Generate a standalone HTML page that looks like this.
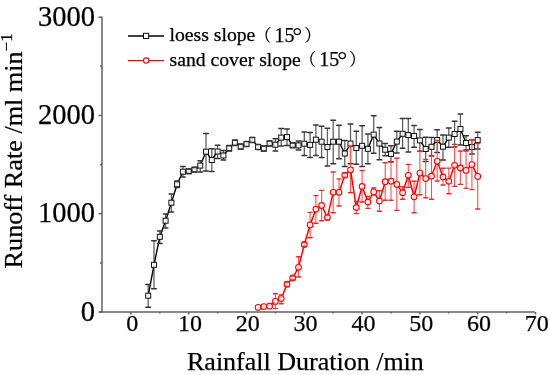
<!DOCTYPE html>
<html><head><meta charset="utf-8"><title>Runoff Rate chart</title>
<style>html,body{margin:0;padding:0;background:#fff;}svg{display:block;}</style>
</head><body>
<svg width="550" height="375" viewBox="0 0 550 375" font-family="'Liberation Serif', 'Noto Serif CJK SC', serif" fill="#000">
<style>text{stroke:#000;stroke-width:0.25px;}</style>
<rect width="550" height="375" fill="#fff"/>
<g stroke="#606060" stroke-width="1.5"><line x1="102.0" y1="16.7" x2="102.0" y2="312.5"/><line x1="99.4" y1="312.0" x2="534.8" y2="312.0"/><line x1="98.5" y1="312.0" x2="102.0" y2="312.0"/><line x1="100.0" y1="262.9" x2="102.0" y2="262.9"/><line x1="98.5" y1="213.7" x2="102.0" y2="213.7"/><line x1="100.0" y1="164.6" x2="102.0" y2="164.6"/><line x1="98.5" y1="115.5" x2="102.0" y2="115.5"/><line x1="100.0" y1="66.3" x2="102.0" y2="66.3"/><line x1="98.5" y1="17.2" x2="102.0" y2="17.2"/><line x1="130.9" y1="312.0" x2="130.9" y2="314.5"/><line x1="159.8" y1="312.0" x2="159.8" y2="313.5"/><line x1="188.7" y1="312.0" x2="188.7" y2="314.5"/><line x1="217.6" y1="312.0" x2="217.6" y2="313.5"/><line x1="246.5" y1="312.0" x2="246.5" y2="314.5"/><line x1="275.4" y1="312.0" x2="275.4" y2="313.5"/><line x1="304.3" y1="312.0" x2="304.3" y2="314.5"/><line x1="333.2" y1="312.0" x2="333.2" y2="313.5"/><line x1="362.1" y1="312.0" x2="362.1" y2="314.5"/><line x1="391.0" y1="312.0" x2="391.0" y2="313.5"/><line x1="419.9" y1="312.0" x2="419.9" y2="314.5"/><line x1="448.8" y1="312.0" x2="448.8" y2="313.5"/><line x1="477.7" y1="312.0" x2="477.7" y2="314.5"/><line x1="506.6" y1="312.0" x2="506.6" y2="313.5"/><line x1="535.5" y1="312.0" x2="535.5" y2="314.5"/></g>
<g stroke="#606060" stroke-width="1.3"><line x1="148.2" y1="284.5" x2="148.2" y2="307.2"/><line x1="154.0" y1="240.8" x2="154.0" y2="288.7"/><line x1="159.8" y1="230.9" x2="159.8" y2="243.5"/><line x1="165.6" y1="214.0" x2="165.6" y2="228.0"/><line x1="171.4" y1="194.0" x2="171.4" y2="212.0"/><line x1="177.1" y1="181.0" x2="177.1" y2="187.5"/><line x1="182.9" y1="166.4" x2="182.9" y2="177.0"/><line x1="188.7" y1="169.0" x2="188.7" y2="173.5"/><line x1="194.5" y1="167.5" x2="194.5" y2="172.0"/><line x1="200.3" y1="160.8" x2="200.3" y2="172.0"/><line x1="206.0" y1="133.6" x2="206.0" y2="170.9"/><line x1="211.8" y1="148.8" x2="211.8" y2="171.5"/><line x1="217.6" y1="145.3" x2="217.6" y2="158.4"/><line x1="223.4" y1="150.4" x2="223.4" y2="160.0"/><line x1="229.2" y1="145.5" x2="229.2" y2="151.0"/><line x1="234.9" y1="140.0" x2="234.9" y2="145.5"/><line x1="240.7" y1="144.0" x2="240.7" y2="149.0"/><line x1="246.5" y1="141.5" x2="246.5" y2="146.5"/><line x1="252.3" y1="137.5" x2="252.3" y2="142.5"/><line x1="258.1" y1="144.5" x2="258.1" y2="149.5"/><line x1="263.8" y1="146.0" x2="263.8" y2="151.0"/><line x1="269.6" y1="141.0" x2="269.6" y2="146.0"/><line x1="275.4" y1="138.7" x2="275.4" y2="150.9"/><line x1="281.2" y1="128.5" x2="281.2" y2="146.1"/><line x1="287.0" y1="129.1" x2="287.0" y2="145.6"/><line x1="292.7" y1="143.0" x2="292.7" y2="147.5"/><line x1="298.5" y1="141.1" x2="298.5" y2="149.9"/><line x1="304.3" y1="131.9" x2="304.3" y2="155.4"/><line x1="310.1" y1="132.6" x2="310.1" y2="157.5"/><line x1="315.9" y1="124.9" x2="315.9" y2="155.5"/><line x1="321.6" y1="126.2" x2="321.6" y2="157.6"/><line x1="327.4" y1="128.3" x2="327.4" y2="165.9"/><line x1="333.2" y1="120.3" x2="333.2" y2="163.8"/><line x1="339.0" y1="125.3" x2="339.0" y2="158.7"/><line x1="344.8" y1="140.6" x2="344.8" y2="166.5"/><line x1="350.5" y1="124.1" x2="350.5" y2="163.8"/><line x1="356.3" y1="131.2" x2="356.3" y2="164.3"/><line x1="362.1" y1="125.7" x2="362.1" y2="166.5"/><line x1="367.9" y1="133.9" x2="367.9" y2="163.8"/><line x1="373.7" y1="115.7" x2="373.7" y2="153.3"/><line x1="379.4" y1="127.5" x2="379.4" y2="159.7"/><line x1="385.2" y1="143.4" x2="385.2" y2="155.8"/><line x1="391.0" y1="145.8" x2="391.0" y2="161.8"/><line x1="396.8" y1="131.2" x2="396.8" y2="153.1"/><line x1="402.6" y1="118.5" x2="402.6" y2="148.2"/><line x1="408.3" y1="118.4" x2="408.3" y2="152.1"/><line x1="414.1" y1="125.5" x2="414.1" y2="147.3"/><line x1="419.9" y1="129.4" x2="419.9" y2="151.3"/><line x1="425.7" y1="137.2" x2="425.7" y2="161.5"/><line x1="431.5" y1="137.5" x2="431.5" y2="156.1"/><line x1="437.2" y1="129.7" x2="437.2" y2="152.4"/><line x1="443.0" y1="135.1" x2="443.0" y2="159.9"/><line x1="448.8" y1="128.1" x2="448.8" y2="147.3"/><line x1="454.6" y1="121.2" x2="454.6" y2="147.0"/><line x1="460.4" y1="114.1" x2="460.4" y2="145.0"/><line x1="466.1" y1="135.7" x2="466.1" y2="150.0"/><line x1="471.9" y1="139.7" x2="471.9" y2="154.0"/><line x1="477.7" y1="132.2" x2="477.7" y2="149.0"/></g>
<polyline points="148.2,295.7 154.0,264.8 159.8,236.8 165.6,220.7 171.4,202.7 177.1,184.3 182.9,171.7 188.7,171.3 194.5,169.6 200.3,165.6 206.0,151.7 211.8,160.0 217.6,151.5 223.4,155.5 229.2,148.3 234.9,142.8 240.7,146.6 246.5,144.0 252.3,139.9 258.1,147.0 263.8,148.6 269.6,143.5 275.4,144.7 281.2,137.6 287.0,137.1 292.7,145.3 298.5,145.4 304.3,143.7 310.1,144.9 315.9,139.7 321.6,141.7 327.4,147.0 333.2,141.7 339.0,141.7 344.8,153.5 350.5,143.6 356.3,148.0 362.1,145.8 367.9,148.8 373.7,134.6 379.4,143.5 385.2,149.7 391.0,153.9 396.8,141.6 402.6,133.8 408.3,135.1 414.1,136.0 419.9,140.4 425.7,149.0 431.5,146.8 437.2,140.0 443.0,146.7 448.8,137.6 454.6,134.0 460.4,129.0 466.1,143.0 471.9,147.0 477.7,140.1" fill="none" stroke="#000" stroke-width="1.4" stroke-linejoin="round"/>
<g fill="#fff" fill-opacity="0.92" stroke="#111" stroke-width="1.0"><rect x="145.7" y="293.2" width="5.0" height="5.0"/><rect x="151.5" y="262.3" width="5.0" height="5.0"/><rect x="157.3" y="234.3" width="5.0" height="5.0"/><rect x="163.1" y="218.2" width="5.0" height="5.0"/><rect x="168.9" y="200.2" width="5.0" height="5.0"/><rect x="174.6" y="181.8" width="5.0" height="5.0"/><rect x="180.4" y="169.2" width="5.0" height="5.0"/><rect x="186.2" y="168.8" width="5.0" height="5.0"/><rect x="192.0" y="167.1" width="5.0" height="5.0"/><rect x="197.8" y="163.1" width="5.0" height="5.0"/><rect x="203.5" y="149.2" width="5.0" height="5.0"/><rect x="209.3" y="157.5" width="5.0" height="5.0"/><rect x="215.1" y="149.0" width="5.0" height="5.0"/><rect x="220.9" y="153.0" width="5.0" height="5.0"/><rect x="226.7" y="145.8" width="5.0" height="5.0"/><rect x="232.4" y="140.3" width="5.0" height="5.0"/><rect x="238.2" y="144.1" width="5.0" height="5.0"/><rect x="244.0" y="141.5" width="5.0" height="5.0"/><rect x="249.8" y="137.4" width="5.0" height="5.0"/><rect x="255.6" y="144.5" width="5.0" height="5.0"/><rect x="261.3" y="146.1" width="5.0" height="5.0"/><rect x="267.1" y="141.0" width="5.0" height="5.0"/><rect x="272.9" y="142.2" width="5.0" height="5.0"/><rect x="278.7" y="135.1" width="5.0" height="5.0"/><rect x="284.5" y="134.6" width="5.0" height="5.0"/><rect x="290.2" y="142.8" width="5.0" height="5.0"/><rect x="296.0" y="142.9" width="5.0" height="5.0"/><rect x="301.8" y="141.2" width="5.0" height="5.0"/><rect x="307.6" y="142.4" width="5.0" height="5.0"/><rect x="313.4" y="137.2" width="5.0" height="5.0"/><rect x="319.1" y="139.2" width="5.0" height="5.0"/><rect x="324.9" y="144.5" width="5.0" height="5.0"/><rect x="330.7" y="139.2" width="5.0" height="5.0"/><rect x="336.5" y="139.2" width="5.0" height="5.0"/><rect x="342.3" y="151.0" width="5.0" height="5.0"/><rect x="348.0" y="141.1" width="5.0" height="5.0"/><rect x="353.8" y="145.5" width="5.0" height="5.0"/><rect x="359.6" y="143.3" width="5.0" height="5.0"/><rect x="365.4" y="146.3" width="5.0" height="5.0"/><rect x="371.2" y="132.1" width="5.0" height="5.0"/><rect x="376.9" y="141.0" width="5.0" height="5.0"/><rect x="382.7" y="147.2" width="5.0" height="5.0"/><rect x="388.5" y="151.4" width="5.0" height="5.0"/><rect x="394.3" y="139.1" width="5.0" height="5.0"/><rect x="400.1" y="131.3" width="5.0" height="5.0"/><rect x="405.8" y="132.6" width="5.0" height="5.0"/><rect x="411.6" y="133.5" width="5.0" height="5.0"/><rect x="417.4" y="137.9" width="5.0" height="5.0"/><rect x="423.2" y="146.5" width="5.0" height="5.0"/><rect x="429.0" y="144.3" width="5.0" height="5.0"/><rect x="434.7" y="137.5" width="5.0" height="5.0"/><rect x="440.5" y="144.2" width="5.0" height="5.0"/><rect x="446.3" y="135.1" width="5.0" height="5.0"/><rect x="452.1" y="131.5" width="5.0" height="5.0"/><rect x="457.9" y="126.5" width="5.0" height="5.0"/><rect x="463.6" y="140.5" width="5.0" height="5.0"/><rect x="469.4" y="144.5" width="5.0" height="5.0"/><rect x="475.2" y="137.6" width="5.0" height="5.0"/></g>
<g stroke="#333" stroke-width="1.5" stroke-linecap="round"><line x1="145.9" y1="284.5" x2="150.5" y2="284.5"/><line x1="145.9" y1="307.2" x2="150.5" y2="307.2"/><line x1="151.7" y1="240.8" x2="156.3" y2="240.8"/><line x1="151.7" y1="288.7" x2="156.3" y2="288.7"/><line x1="157.5" y1="230.9" x2="162.1" y2="230.9"/><line x1="157.5" y1="243.5" x2="162.1" y2="243.5"/><line x1="163.3" y1="214.0" x2="167.9" y2="214.0"/><line x1="163.3" y1="228.0" x2="167.9" y2="228.0"/><line x1="169.1" y1="194.0" x2="173.7" y2="194.0"/><line x1="169.1" y1="212.0" x2="173.7" y2="212.0"/><line x1="174.8" y1="181.0" x2="179.4" y2="181.0"/><line x1="174.8" y1="187.5" x2="179.4" y2="187.5"/><line x1="180.6" y1="166.4" x2="185.2" y2="166.4"/><line x1="180.6" y1="177.0" x2="185.2" y2="177.0"/><line x1="186.4" y1="169.0" x2="191.0" y2="169.0"/><line x1="186.4" y1="173.5" x2="191.0" y2="173.5"/><line x1="192.2" y1="167.5" x2="196.8" y2="167.5"/><line x1="192.2" y1="172.0" x2="196.8" y2="172.0"/><line x1="198.0" y1="160.8" x2="202.6" y2="160.8"/><line x1="198.0" y1="172.0" x2="202.6" y2="172.0"/><line x1="203.7" y1="133.6" x2="208.3" y2="133.6"/><line x1="203.7" y1="170.9" x2="208.3" y2="170.9"/><line x1="209.5" y1="148.8" x2="214.1" y2="148.8"/><line x1="209.5" y1="171.5" x2="214.1" y2="171.5"/><line x1="215.3" y1="145.3" x2="219.9" y2="145.3"/><line x1="215.3" y1="158.4" x2="219.9" y2="158.4"/><line x1="221.1" y1="150.4" x2="225.7" y2="150.4"/><line x1="221.1" y1="160.0" x2="225.7" y2="160.0"/><line x1="226.9" y1="145.5" x2="231.5" y2="145.5"/><line x1="226.9" y1="151.0" x2="231.5" y2="151.0"/><line x1="232.6" y1="140.0" x2="237.2" y2="140.0"/><line x1="232.6" y1="145.5" x2="237.2" y2="145.5"/><line x1="238.4" y1="144.0" x2="243.0" y2="144.0"/><line x1="238.4" y1="149.0" x2="243.0" y2="149.0"/><line x1="244.2" y1="141.5" x2="248.8" y2="141.5"/><line x1="244.2" y1="146.5" x2="248.8" y2="146.5"/><line x1="250.0" y1="137.5" x2="254.6" y2="137.5"/><line x1="250.0" y1="142.5" x2="254.6" y2="142.5"/><line x1="255.8" y1="144.5" x2="260.4" y2="144.5"/><line x1="255.8" y1="149.5" x2="260.4" y2="149.5"/><line x1="261.5" y1="146.0" x2="266.1" y2="146.0"/><line x1="261.5" y1="151.0" x2="266.1" y2="151.0"/><line x1="267.3" y1="141.0" x2="271.9" y2="141.0"/><line x1="267.3" y1="146.0" x2="271.9" y2="146.0"/><line x1="273.1" y1="138.7" x2="277.7" y2="138.7"/><line x1="273.1" y1="150.9" x2="277.7" y2="150.9"/><line x1="278.9" y1="128.5" x2="283.5" y2="128.5"/><line x1="278.9" y1="146.1" x2="283.5" y2="146.1"/><line x1="284.7" y1="129.1" x2="289.3" y2="129.1"/><line x1="284.7" y1="145.6" x2="289.3" y2="145.6"/><line x1="290.4" y1="143.0" x2="295.0" y2="143.0"/><line x1="290.4" y1="147.5" x2="295.0" y2="147.5"/><line x1="296.2" y1="141.1" x2="300.8" y2="141.1"/><line x1="296.2" y1="149.9" x2="300.8" y2="149.9"/><line x1="302.0" y1="131.9" x2="306.6" y2="131.9"/><line x1="302.0" y1="155.4" x2="306.6" y2="155.4"/><line x1="307.8" y1="132.6" x2="312.4" y2="132.6"/><line x1="307.8" y1="157.5" x2="312.4" y2="157.5"/><line x1="313.6" y1="124.9" x2="318.2" y2="124.9"/><line x1="313.6" y1="155.5" x2="318.2" y2="155.5"/><line x1="319.3" y1="126.2" x2="323.9" y2="126.2"/><line x1="319.3" y1="157.6" x2="323.9" y2="157.6"/><line x1="325.1" y1="128.3" x2="329.7" y2="128.3"/><line x1="325.1" y1="165.9" x2="329.7" y2="165.9"/><line x1="330.9" y1="120.3" x2="335.5" y2="120.3"/><line x1="330.9" y1="163.8" x2="335.5" y2="163.8"/><line x1="336.7" y1="125.3" x2="341.3" y2="125.3"/><line x1="336.7" y1="158.7" x2="341.3" y2="158.7"/><line x1="342.5" y1="140.6" x2="347.1" y2="140.6"/><line x1="342.5" y1="166.5" x2="347.1" y2="166.5"/><line x1="348.2" y1="124.1" x2="352.8" y2="124.1"/><line x1="348.2" y1="163.8" x2="352.8" y2="163.8"/><line x1="354.0" y1="131.2" x2="358.6" y2="131.2"/><line x1="354.0" y1="164.3" x2="358.6" y2="164.3"/><line x1="359.8" y1="125.7" x2="364.4" y2="125.7"/><line x1="359.8" y1="166.5" x2="364.4" y2="166.5"/><line x1="365.6" y1="133.9" x2="370.2" y2="133.9"/><line x1="365.6" y1="163.8" x2="370.2" y2="163.8"/><line x1="371.4" y1="115.7" x2="376.0" y2="115.7"/><line x1="371.4" y1="153.3" x2="376.0" y2="153.3"/><line x1="377.1" y1="127.5" x2="381.7" y2="127.5"/><line x1="377.1" y1="159.7" x2="381.7" y2="159.7"/><line x1="382.9" y1="143.4" x2="387.5" y2="143.4"/><line x1="382.9" y1="155.8" x2="387.5" y2="155.8"/><line x1="388.7" y1="145.8" x2="393.3" y2="145.8"/><line x1="388.7" y1="161.8" x2="393.3" y2="161.8"/><line x1="394.5" y1="131.2" x2="399.1" y2="131.2"/><line x1="394.5" y1="153.1" x2="399.1" y2="153.1"/><line x1="400.3" y1="118.5" x2="404.9" y2="118.5"/><line x1="400.3" y1="148.2" x2="404.9" y2="148.2"/><line x1="406.0" y1="118.4" x2="410.6" y2="118.4"/><line x1="406.0" y1="152.1" x2="410.6" y2="152.1"/><line x1="411.8" y1="125.5" x2="416.4" y2="125.5"/><line x1="411.8" y1="147.3" x2="416.4" y2="147.3"/><line x1="417.6" y1="129.4" x2="422.2" y2="129.4"/><line x1="417.6" y1="151.3" x2="422.2" y2="151.3"/><line x1="423.4" y1="137.2" x2="428.0" y2="137.2"/><line x1="423.4" y1="161.5" x2="428.0" y2="161.5"/><line x1="429.2" y1="137.5" x2="433.8" y2="137.5"/><line x1="429.2" y1="156.1" x2="433.8" y2="156.1"/><line x1="434.9" y1="129.7" x2="439.5" y2="129.7"/><line x1="434.9" y1="152.4" x2="439.5" y2="152.4"/><line x1="440.7" y1="135.1" x2="445.3" y2="135.1"/><line x1="440.7" y1="159.9" x2="445.3" y2="159.9"/><line x1="446.5" y1="128.1" x2="451.1" y2="128.1"/><line x1="446.5" y1="147.3" x2="451.1" y2="147.3"/><line x1="452.3" y1="121.2" x2="456.9" y2="121.2"/><line x1="452.3" y1="147.0" x2="456.9" y2="147.0"/><line x1="458.1" y1="114.1" x2="462.7" y2="114.1"/><line x1="458.1" y1="145.0" x2="462.7" y2="145.0"/><line x1="463.8" y1="135.7" x2="468.4" y2="135.7"/><line x1="463.8" y1="150.0" x2="468.4" y2="150.0"/><line x1="469.6" y1="139.7" x2="474.2" y2="139.7"/><line x1="469.6" y1="154.0" x2="474.2" y2="154.0"/><line x1="475.4" y1="132.2" x2="480.0" y2="132.2"/><line x1="475.4" y1="149.0" x2="480.0" y2="149.0"/></g>
<g stroke="#ff4d4d" stroke-width="1.1"><line x1="275.4" y1="293.8" x2="275.4" y2="308.6"/><line x1="281.2" y1="295.0" x2="281.2" y2="303.8"/><line x1="287.0" y1="282.0" x2="287.0" y2="286.5"/><line x1="292.7" y1="276.0" x2="292.7" y2="280.0"/><line x1="298.5" y1="256.8" x2="298.5" y2="277.0"/><line x1="304.3" y1="242.5" x2="304.3" y2="246.5"/><line x1="310.1" y1="212.4" x2="310.1" y2="237.7"/><line x1="315.9" y1="195.6" x2="315.9" y2="223.3"/><line x1="321.6" y1="190.4" x2="321.6" y2="220.7"/><line x1="327.4" y1="215.0" x2="327.4" y2="220.0"/><line x1="333.2" y1="172.0" x2="333.2" y2="212.8"/><line x1="339.0" y1="178.9" x2="339.0" y2="206.0"/><line x1="344.8" y1="173.0" x2="344.8" y2="177.5"/><line x1="350.5" y1="146.5" x2="350.5" y2="192.8"/><line x1="356.3" y1="201.5" x2="356.3" y2="213.6"/><line x1="362.1" y1="170.5" x2="362.1" y2="202.0"/><line x1="367.9" y1="196.4" x2="367.9" y2="208.4"/><line x1="373.7" y1="188.0" x2="373.7" y2="195.0"/><line x1="379.4" y1="190.8" x2="379.4" y2="211.2"/><line x1="385.2" y1="162.8" x2="385.2" y2="200.2"/><line x1="391.0" y1="162.0" x2="391.0" y2="200.2"/><line x1="396.8" y1="158.3" x2="396.8" y2="210.4"/><line x1="402.6" y1="186.8" x2="402.6" y2="199.2"/><line x1="408.3" y1="164.4" x2="408.3" y2="187.4"/><line x1="414.1" y1="181.2" x2="414.1" y2="212.8"/><line x1="419.9" y1="151.4" x2="419.9" y2="194.8"/><line x1="425.7" y1="159.4" x2="425.7" y2="197.8"/><line x1="431.5" y1="155.4" x2="431.5" y2="199.3"/><line x1="437.2" y1="140.5" x2="437.2" y2="181.0"/><line x1="443.0" y1="168.2" x2="443.0" y2="185.0"/><line x1="448.8" y1="168.1" x2="448.8" y2="193.7"/><line x1="454.6" y1="144.4" x2="454.6" y2="186.4"/><line x1="460.4" y1="151.0" x2="460.4" y2="184.4"/><line x1="466.1" y1="151.0" x2="466.1" y2="188.4"/><line x1="471.9" y1="139.8" x2="471.9" y2="189.6"/><line x1="477.7" y1="143.5" x2="477.7" y2="209.0"/></g>
<polyline points="258.1,307.4 263.8,306.6 269.6,306.2 275.4,301.4 281.2,298.6 287.0,284.2 292.7,278.0 298.5,267.3 304.3,244.5 310.1,224.9 315.9,209.2 321.6,205.5 327.4,217.4 333.2,192.3 339.0,192.3 344.8,175.2 350.5,169.9 356.3,207.5 362.1,186.5 367.9,202.0 373.7,191.9 379.4,201.0 385.2,181.7 391.0,181.2 396.8,184.4 402.6,192.7 408.3,175.3 414.1,196.8 419.9,173.1 425.7,178.6 431.5,176.2 437.2,161.3 443.0,177.0 448.8,181.3 454.6,165.3 460.4,168.0 466.1,170.4 471.9,164.6 477.7,176.4" fill="none" stroke="#f00" stroke-width="1.5" stroke-linejoin="round"/>
<g fill="#fff" fill-opacity="0.85" stroke="#f00" stroke-width="1.1"><circle cx="258.1" cy="307.4" r="2.85"/><circle cx="263.8" cy="306.6" r="2.85"/><circle cx="269.6" cy="306.2" r="2.85"/><circle cx="275.4" cy="301.4" r="2.85"/><circle cx="281.2" cy="298.6" r="2.85"/><circle cx="287.0" cy="284.2" r="2.85"/><circle cx="292.7" cy="278.0" r="2.85"/><circle cx="298.5" cy="267.3" r="2.85"/><circle cx="304.3" cy="244.5" r="2.85"/><circle cx="310.1" cy="224.9" r="2.85"/><circle cx="315.9" cy="209.2" r="2.85"/><circle cx="321.6" cy="205.5" r="2.85"/><circle cx="327.4" cy="217.4" r="2.85"/><circle cx="333.2" cy="192.3" r="2.85"/><circle cx="339.0" cy="192.3" r="2.85"/><circle cx="344.8" cy="175.2" r="2.85"/><circle cx="350.5" cy="169.9" r="2.85"/><circle cx="356.3" cy="207.5" r="2.85"/><circle cx="362.1" cy="186.5" r="2.85"/><circle cx="367.9" cy="202.0" r="2.85"/><circle cx="373.7" cy="191.9" r="2.85"/><circle cx="379.4" cy="201.0" r="2.85"/><circle cx="385.2" cy="181.7" r="2.85"/><circle cx="391.0" cy="181.2" r="2.85"/><circle cx="396.8" cy="184.4" r="2.85"/><circle cx="402.6" cy="192.7" r="2.85"/><circle cx="408.3" cy="175.3" r="2.85"/><circle cx="414.1" cy="196.8" r="2.85"/><circle cx="419.9" cy="173.1" r="2.85"/><circle cx="425.7" cy="178.6" r="2.85"/><circle cx="431.5" cy="176.2" r="2.85"/><circle cx="437.2" cy="161.3" r="2.85"/><circle cx="443.0" cy="177.0" r="2.85"/><circle cx="448.8" cy="181.3" r="2.85"/><circle cx="454.6" cy="165.3" r="2.85"/><circle cx="460.4" cy="168.0" r="2.85"/><circle cx="466.1" cy="170.4" r="2.85"/><circle cx="471.9" cy="164.6" r="2.85"/><circle cx="477.7" cy="176.4" r="2.85"/></g>
<g stroke="#ff2020" stroke-width="1.4" stroke-linecap="round"><line x1="273.4" y1="293.8" x2="277.4" y2="293.8"/><line x1="273.4" y1="308.6" x2="277.4" y2="308.6"/><line x1="279.2" y1="295.0" x2="283.2" y2="295.0"/><line x1="279.2" y1="303.8" x2="283.2" y2="303.8"/><line x1="285.0" y1="282.0" x2="289.0" y2="282.0"/><line x1="285.0" y1="286.5" x2="289.0" y2="286.5"/><line x1="290.7" y1="276.0" x2="294.7" y2="276.0"/><line x1="290.7" y1="280.0" x2="294.7" y2="280.0"/><line x1="296.5" y1="256.8" x2="300.5" y2="256.8"/><line x1="296.5" y1="277.0" x2="300.5" y2="277.0"/><line x1="302.3" y1="242.5" x2="306.3" y2="242.5"/><line x1="302.3" y1="246.5" x2="306.3" y2="246.5"/><line x1="308.1" y1="212.4" x2="312.1" y2="212.4"/><line x1="308.1" y1="237.7" x2="312.1" y2="237.7"/><line x1="313.9" y1="195.6" x2="317.9" y2="195.6"/><line x1="313.9" y1="223.3" x2="317.9" y2="223.3"/><line x1="319.6" y1="190.4" x2="323.6" y2="190.4"/><line x1="319.6" y1="220.7" x2="323.6" y2="220.7"/><line x1="325.4" y1="215.0" x2="329.4" y2="215.0"/><line x1="325.4" y1="220.0" x2="329.4" y2="220.0"/><line x1="331.2" y1="172.0" x2="335.2" y2="172.0"/><line x1="331.2" y1="212.8" x2="335.2" y2="212.8"/><line x1="337.0" y1="178.9" x2="341.0" y2="178.9"/><line x1="337.0" y1="206.0" x2="341.0" y2="206.0"/><line x1="342.8" y1="173.0" x2="346.8" y2="173.0"/><line x1="342.8" y1="177.5" x2="346.8" y2="177.5"/><line x1="348.5" y1="146.5" x2="352.5" y2="146.5"/><line x1="348.5" y1="192.8" x2="352.5" y2="192.8"/><line x1="354.3" y1="201.5" x2="358.3" y2="201.5"/><line x1="354.3" y1="213.6" x2="358.3" y2="213.6"/><line x1="360.1" y1="170.5" x2="364.1" y2="170.5"/><line x1="360.1" y1="202.0" x2="364.1" y2="202.0"/><line x1="365.9" y1="196.4" x2="369.9" y2="196.4"/><line x1="365.9" y1="208.4" x2="369.9" y2="208.4"/><line x1="371.7" y1="188.0" x2="375.7" y2="188.0"/><line x1="371.7" y1="195.0" x2="375.7" y2="195.0"/><line x1="377.4" y1="190.8" x2="381.4" y2="190.8"/><line x1="377.4" y1="211.2" x2="381.4" y2="211.2"/><line x1="383.2" y1="162.8" x2="387.2" y2="162.8"/><line x1="383.2" y1="200.2" x2="387.2" y2="200.2"/><line x1="389.0" y1="162.0" x2="393.0" y2="162.0"/><line x1="389.0" y1="200.2" x2="393.0" y2="200.2"/><line x1="394.8" y1="158.3" x2="398.8" y2="158.3"/><line x1="394.8" y1="210.4" x2="398.8" y2="210.4"/><line x1="400.6" y1="186.8" x2="404.6" y2="186.8"/><line x1="400.6" y1="199.2" x2="404.6" y2="199.2"/><line x1="406.3" y1="164.4" x2="410.3" y2="164.4"/><line x1="406.3" y1="187.4" x2="410.3" y2="187.4"/><line x1="412.1" y1="181.2" x2="416.1" y2="181.2"/><line x1="412.1" y1="212.8" x2="416.1" y2="212.8"/><line x1="417.9" y1="151.4" x2="421.9" y2="151.4"/><line x1="417.9" y1="194.8" x2="421.9" y2="194.8"/><line x1="423.7" y1="159.4" x2="427.7" y2="159.4"/><line x1="423.7" y1="197.8" x2="427.7" y2="197.8"/><line x1="429.5" y1="155.4" x2="433.5" y2="155.4"/><line x1="429.5" y1="199.3" x2="433.5" y2="199.3"/><line x1="435.2" y1="140.5" x2="439.2" y2="140.5"/><line x1="435.2" y1="181.0" x2="439.2" y2="181.0"/><line x1="441.0" y1="168.2" x2="445.0" y2="168.2"/><line x1="441.0" y1="185.0" x2="445.0" y2="185.0"/><line x1="446.8" y1="168.1" x2="450.8" y2="168.1"/><line x1="446.8" y1="193.7" x2="450.8" y2="193.7"/><line x1="452.6" y1="144.4" x2="456.6" y2="144.4"/><line x1="452.6" y1="186.4" x2="456.6" y2="186.4"/><line x1="458.4" y1="151.0" x2="462.4" y2="151.0"/><line x1="458.4" y1="184.4" x2="462.4" y2="184.4"/><line x1="464.1" y1="151.0" x2="468.1" y2="151.0"/><line x1="464.1" y1="188.4" x2="468.1" y2="188.4"/><line x1="469.9" y1="139.8" x2="473.9" y2="139.8"/><line x1="469.9" y1="189.6" x2="473.9" y2="189.6"/><line x1="475.7" y1="143.5" x2="479.7" y2="143.5"/><line x1="475.7" y1="209.0" x2="479.7" y2="209.0"/></g>
<text x="95" y="320.6" text-anchor="end" font-size="28.5">0</text><text x="95" y="222.3" text-anchor="end" font-size="28.5">1000</text><text x="95" y="124.1" text-anchor="end" font-size="28.5">2000</text><text x="95" y="25.8" text-anchor="end" font-size="28.5">3000</text><text x="132.2" y="331" text-anchor="middle" font-size="24">0</text><text x="190.0" y="331" text-anchor="middle" font-size="24">10</text><text x="247.8" y="331" text-anchor="middle" font-size="24">20</text><text x="305.6" y="331" text-anchor="middle" font-size="24">30</text><text x="363.4" y="331" text-anchor="middle" font-size="24">40</text><text x="421.2" y="331" text-anchor="middle" font-size="24">50</text><text x="479.0" y="331" text-anchor="middle" font-size="24">60</text><text x="536.8" y="331" text-anchor="middle" font-size="24">70</text>
<text x="187" y="369.8" font-size="26">Rainfall Duration /min</text>
<text transform="translate(22.2,268.4) rotate(-90)" font-size="26.2">Runoff Rate /ml min<tspan dy="-10.5" font-size="17">&#8722;1</tspan></text>
<line x1="128" y1="36" x2="164" y2="36" stroke="#000" stroke-width="1.3"/>
<rect x="143.5" y="33.3" width="5.2" height="5.2" fill="#fff" stroke="#111" stroke-width="1.0"/>
<line x1="128" y1="60.6" x2="164" y2="60.6" stroke="#f00" stroke-width="1.3"/>
<circle cx="146.2" cy="60.6" r="2.7" fill="#fff" stroke="#f00" stroke-width="1.1"/>
<text x="169.5" y="41" font-size="19.7">loess slope</text><text x="254.4" y="41.7" font-size="17" style="stroke-width:0.1px">（</text><text x="274.4" y="41.8" font-size="20">15</text><text x="292.3" y="43.8" font-size="25" style="stroke-width:0">°</text><text x="304.2" y="41.7" font-size="17" style="stroke-width:0.1px">）</text><text x="169.5" y="65.5" font-size="19.7">sand cover slope</text><text x="299.3" y="66.2" font-size="17" style="stroke-width:0.1px">（</text><text x="319.3" y="66.3" font-size="20">15</text><text x="337.2" y="68.3" font-size="25" style="stroke-width:0">°</text><text x="349.1" y="66.2" font-size="17" style="stroke-width:0.1px">）</text>
</svg>
</body></html>
